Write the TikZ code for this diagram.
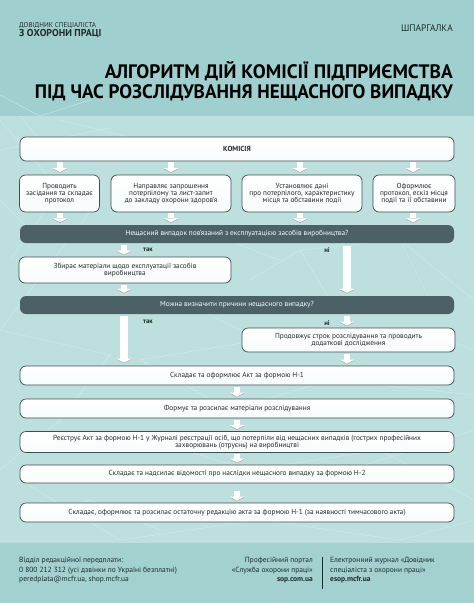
\documentclass[tikz,border=0pt]{standalone}
\usepackage{fontspec}
\setmainfont{PT Sans}
\usepackage{graphicx}
\usetikzlibrary{arrows.meta,calc}
\definecolor{hdr}{HTML}{9FD0CF}
\definecolor{bodybg}{HTML}{BDE0DF}
\definecolor{ftr}{HTML}{A2D1D0}
\definecolor{darkbar}{HTML}{4C6166}
\definecolor{bordc}{HTML}{3E4E53}
\definecolor{txt}{HTML}{222A2C}
\definecolor{netc}{HTML}{D3ECEB}
\newcommand\fitw[2]{\resizebox{#1}{\height}{#2}}
\tikzset{
  wbox/.style={draw=bordc, line width=0.7pt, rounded corners=6pt,
    top color=white, bottom color=white!88!bodybg, text=txt,
    font=\fontsize{7.3}{7.2}\selectfont, align=center, inner sep=1pt},
  dbox/.style={fill=darkbar, rounded corners=6pt, text=white!90!bodybg,
    font=\fontsize{7.3}{7.2}\selectfont, align=center, inner sep=1pt,
    minimum width=434pt, minimum height=18pt},
  barr/.style={draw=white, line width=6pt,
    -{Triangle[width=15pt,length=4pt,line width=0pt]},
    preaction={draw=black!35, line width=6pt, -{Triangle[width=15pt,length=4pt,line width=0pt]}, transform canvas={yshift=-0.7pt}}},
  barrw/.style={draw=white, line width=8pt,
    -{Triangle[width=16pt,length=4pt,line width=0pt]},
    preaction={draw=black!35, line width=8pt, -{Triangle[width=16pt,length=4pt,line width=0pt]}, transform canvas={yshift=-0.7pt}}},
  lbl/.style={font=\bfseries\fontsize{6.8}{7}\selectfont, text=txt, inner sep=0pt},
  net/.style={draw=netc, line width=0.35pt}
}
\begin{document}
\begin{tikzpicture}[x=1pt,y=-1pt]
\useasboundingbox (0,0) rectangle (474,603);
% backgrounds
\fill[bodybg] (0,0) rectangle (474,603);
\fill[hdr] (0,0) rectangle (474,116);
\fill[ftr] (0,543) rectangle (474,603);
% decorative network
\foreach \a/\b/\c/\d in {0/120/60/190, 60/190/10/260, 0/150/110/128, 20/116/95/205, 95/205/0/330,
  0/330/110/355, 110/355/60/420, 60/420/0/470, 140/360/230/410, 230/410/330/380,
  330/380/474/395, 400/240/474/300, 300/250/400/240, 400/240/430/300, 250/280/300/250,
  300/250/330/300, 150/440/250/470, 250/470/380/450, 380/450/474/500, 20/480/120/540,
  120/540/260/520, 260/520/400/540, 400/540/474/520, 180/300/260/340, 260/340/140/360,
  420/330/474/350, 60/120/140/140, 0/200/40/240, 200/230/280/260, 350/470/474/430,
  30/520/90/500, 90/500/160/530, 0/95/40/116, 40/116/90/100}
  \draw[net] (\a,\b) -- (\c,\d);
% header
\node[anchor=west, inner sep=0pt, font=\fontsize{7}{8}\selectfont, text=txt] (h1) at (19,25) {ДОВІДНИК СПЕЦІАЛІСТА};
\node[anchor=west, inner sep=0pt, font=\bfseries\fontsize{10}{11}\selectfont, text=txt] (h2) at (19,34) {З ОХОРОНИ ПРАЦІ};
\node[anchor=east, inner sep=0pt, font=\fontsize{9.5}{10}\selectfont, text=txt] (h3) at (453,28) {ШПАРГАЛКА};
\node[anchor=east, inner sep=0pt, font=\bfseries\fontsize{19.5}{20}\selectfont, text=black] (t1) at (453,71.5) {\fitw{348pt}{АЛГОРИТМ ДІЙ КОМІСІЇ ПІДПРИЄМСТВА}};
\node[anchor=east, inner sep=0pt, font=\bfseries\fontsize{19.5}{20}\selectfont, text=black] (t2) at (453,93) {\fitw{418pt}{ПІД ЧАС РОЗСЛІДУВАННЯ НЕЩАСНОГО ВИПАДКУ}};
% nodes
\node[wbox, minimum width=434pt, minimum height=24pt, font=\bfseries\fontsize{7.3}{7.2}\selectfont] (kom) at (237,149) {КОМІСІЯ};
\node[wbox, minimum width=80pt, minimum height=37pt] (b1) at (59.5,193.5) {Проводить\\засідання та складає\\протокол};
\node[wbox, minimum width=120pt, minimum height=37pt] (b2) at (171,193.5) {Направляє запрошення\\потерпілому та лист-запит\\до закладу охорони здоров’я};
\node[wbox, minimum width=120pt, minimum height=37pt] (b3) at (302,193.5) {Установлює дані\\про потерпілого, характеристику\\місця та обставини події};
\node[wbox, minimum width=82pt, minimum height=37pt] (b4) at (414,193.5) {Оформлює\\протокол, ескіз місця\\події та її обставини};
\node[dbox] (q1) at (237,234) {Нещасний випадок пов’язаний з експлуатацією засобів виробництва?};
\node[wbox, minimum width=212pt, minimum height=26pt] (c1) at (125,270) {Збирає матеріали щодо експлуатації засобів\\виробництва};
\node[dbox] (q2) at (237,305) {Можна визначити причини нещасного випадку?};
\node[wbox, minimum width=213pt, minimum height=24pt] (d1) at (348.5,340) {Продовжує строк розслідування та проводить\\додаткові дослідження};
\node[wbox, minimum width=434pt, minimum height=19pt] (e1) at (237,375.5) {Складає та оформлює Акт за формою Н-1};
\node[wbox, minimum width=434pt, minimum height=19pt] (e2) at (237,408.5) {Формує та розсилає матеріали розслідування};
\node[wbox, minimum width=434pt, minimum height=21pt] (e3) at (237,442) {Реєструє Акт за формою Н-1 у Журналі реєстрації осіб, що потерпіли від нещасних випадків (гострих професійних\\захворювань (отруєнь) на виробництві};
\node[wbox, minimum width=434pt, minimum height=18pt] (e4) at (237,474) {Складає та надсилає відомості про наслідки нещасного випадку за формою Н-2};
\node[wbox, minimum width=434pt, minimum height=19pt] (e5) at (237,512.5) {Складає, оформлює та розсилає остаточну редакцію акта за формою Н-1 (за наявності тимчасового акта)};
% arrow columns
\coordinate (x1) at (60,0);
\coordinate (x2) at (171,0);
\coordinate (x3) at (300,0);
\coordinate (x4) at (413,0);
\coordinate (xl) at (124,0);
\coordinate (xr) at (347,0);
\coordinate (xm) at (237,0);
% arrows
\foreach \b/\x in {b1/x1,b2/x2,b3/x3,b4/x4}{
  \draw[barr] ([yshift=-1pt]kom.south -| \x) -- ([yshift=2.5pt]\b.north -| \x);
  \draw[barr] ([yshift=-1pt]\b.south -| \x) -- ([yshift=2.5pt]q1.north -| \x);
}
\draw[barr] ([yshift=-1.5pt]q1.south -| xl) -- ([yshift=2pt]c1.north -| xl);
\draw[barrw] ([yshift=-3pt]q1.south -| xr) -- ([yshift=3pt]q2.north -| xr);
\draw[barr] ([yshift=-1.5pt]c1.south -| xl) -- ([yshift=3pt]q2.north -| xl);
\draw[barrw] ([yshift=-2pt]q2.south -| xl) -- ([yshift=3pt]e1.north -| xl);
\draw[barr] ([yshift=-2pt]q2.south -| xr) -- ([yshift=2pt]d1.north -| xr);
\draw[barr] ([yshift=-2pt]d1.south -| xr) -- ([yshift=2pt]e1.north -| xr);
\draw[barr] ([yshift=-2pt]e1.south -| xm) -- ([yshift=2pt]e2.north -| xm);
\draw[barr] ([yshift=-2pt]e2.south -| xm) -- ([yshift=2pt]e3.north -| xm);
\draw[barr] ([yshift=-1pt]e3.south -| xm) -- ([yshift=2pt]e4.north -| xm);
\draw[barr] ([yshift=-8pt]e4.south -| xm) -- ([yshift=2pt]e5.north -| xm);
% labels
\node[lbl] (l1) at (148,250) {так};
\node[lbl] (l2) at (327,250) {ні};
\node[lbl] (l3) at (148,322) {так};
\node[lbl] (l4) at (327,323) {ні};
% footer
\node[anchor=north west, inner sep=0pt, align=left, text=txt, font=\fontsize{7.5}{9.6}\selectfont] (f1) at (19,557) {Відділ редакційної передплати:\\0 800 212 312 (усі дзвінки по Україні безплатні)\\peredplata@mcfr.ua, shop.mcfr.ua};
\node[anchor=north east, inner sep=0pt, align=right, text=txt, font=\fontsize{7.5}{9.6}\selectfont] (f2) at (313,557) {Професійний портал\\«Служба охорони праці»\\\textbf{sop.com.ua}};
\node[anchor=north west, inner sep=0pt, align=left, text=txt, font=\fontsize{7.5}{9.6}\selectfont] (f3) at (330,557) {Електронний журнал «Довідник\\спеціаліста з охорони праці»\\\textbf{esop.mcfr.ua}};
\coordinate (dv1) at (322,557);
\coordinate (dv2) at (322,589);
\draw[txt, line width=0.6pt] (dv1) -- (dv2);
\end{tikzpicture}
\end{document}
